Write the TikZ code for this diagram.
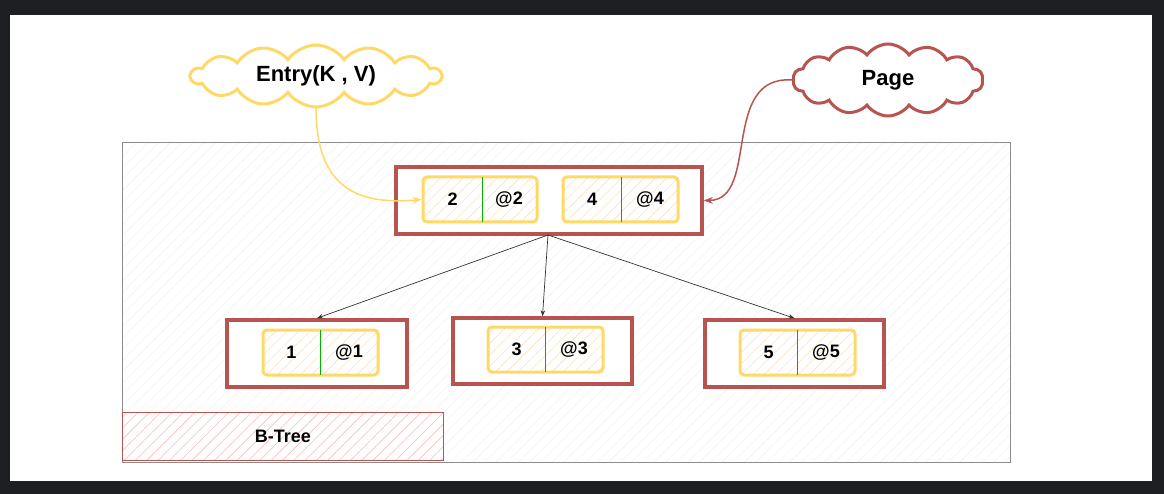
\documentclass[tikz,border=0pt]{standalone}
\usepackage{fontspec}
\setmainfont{Liberation Sans}
\usetikzlibrary{shapes.symbols,patterns,patterns.meta,arrows.meta}
\definecolor{bg}{HTML}{1E1F22}
\definecolor{pred}{HTML}{B85450}
\definecolor{pyel}{HTML}{FFD966}
\definecolor{hatch}{HTML}{FFE0C0}
\tikzset{
 page/.style={draw=pred,line width=3.5pt,fill=white},
 entry/.style={draw=pyel,line width=3pt,rounded corners=4pt,pattern={Lines[angle=45,distance=8pt,line width=0.6pt]},pattern color=hatch},
 divl/.style={draw=green!70!black,line width=1pt},
 lbl/.style={font=\bfseries\fontsize{18}{18}\selectfont},
 edge/.style={draw=black!80,line width=0.7pt,-{Stealth[length=6pt]}},
 cloudy/.style={cloud,cloud puffs=14,cloud puff arc=110,cloud ignores aspect,line width=3pt,fill=white,inner sep=0pt,font=\bfseries\fontsize{22}{22}\selectfont}
}
\begin{document}
\begin{tikzpicture}[x=1pt,y=-1pt]
\useasboundingbox (0,0) rectangle (1164,494);
\fill[bg] (0,0) rectangle (1164,494);
\fill[white] (10,15) rectangle (1152,481);
\draw[black!45,line width=0.6pt,pattern={Lines[angle=45,distance=8pt,line width=0.4pt]},pattern color=black!5] (122,142) rectangle (1010,462);
\node[draw=pred,line width=1pt,minimum width=321pt,minimum height=48pt,anchor=north west,pattern={Lines[angle=45,distance=8pt,line width=0.6pt]},pattern color=red!25,lbl] (bt) at (122,412) {B-Tree};
% pages
\node[page,minimum width=306pt,minimum height=67pt] (top) at (549,200.5) {};
\node[page,minimum width=180pt,minimum height=67pt] (p1) at (317,353.5) {};
\node[page,minimum width=179pt,minimum height=66pt] (p3) at (542.5,351) {};
\node[page,minimum width=179pt,minimum height=67pt] (p5) at (794.5,353.5) {};
% entries
\newcommand{\entryat}[6]{%
 \node[entry,minimum width=#4pt,minimum height=45pt] (#1) at (#2,#3) {};
 \draw[divl] (#5,#3-22.5) -- (#5,#3+22.5);
 \node[lbl] at ({(#2-#4/2+#5)/2},#3) {#6};
}
\entryat{e2}{480}{199.5}{114}{482}{2}
\node[lbl] at (509,199.5) {@2};
\entryat{e4}{620.5}{199.5}{115}{621}{4}
\node[lbl] at (650,199.5) {@4};
\entryat{e1}{320.5}{352.5}{115}{320}{1}
\node[lbl] at (349,352.5) {@1};
\entryat{e3}{545.5}{349.5}{115}{545}{3}
\node[lbl] at (574,349.5) {@3};
\entryat{e5}{797.5}{352.5}{115}{797}{5}
\node[lbl] at (826,352.5) {@5};
% edges
\coordinate (src) at (548,235);
\draw[edge] (src) -- (p1.north);
\draw[edge] (src) -- (p3.north);
\draw[edge] (src) -- (p5.north);
% clouds
\node[cloudy,draw=pyel,minimum width=250pt,minimum height=62pt] (ent) at (316,76) {Entry(K , V)};
\node[cloudy,draw=pred,minimum width=190pt,minimum height=72pt] (pg) at (888,80) {Page};
\draw[draw=pyel,line width=1.5pt,-{Stealth[length=9pt]}] (316,108) .. controls (316,190) and (360,205) .. (e2.west);
\draw[draw=pred,line width=1.5pt,-{Stealth[length=9pt]}] (pg.west) .. controls (720,75) and (760,200) .. (top.east);
\end{tikzpicture}
\end{document}
